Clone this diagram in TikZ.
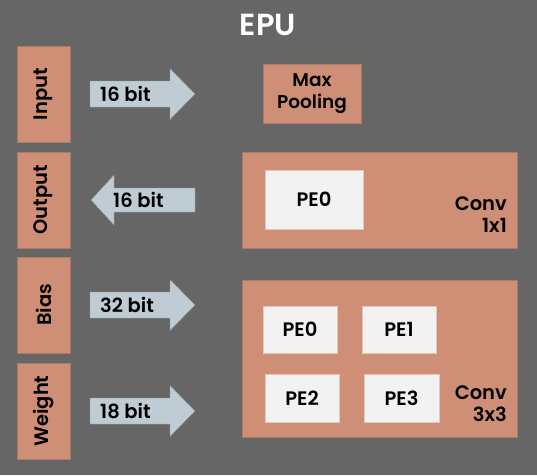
\documentclass[tikz,border=0pt]{standalone}
\usepackage{fontspec}
\setmainfont{Poppins}[BoldFont={* SemiBold}]
\usepackage{tikz}
\usetikzlibrary{positioning}

\definecolor{bgcol}{HTML}{666666}
\definecolor{unitcol}{HTML}{CF8F77}
\definecolor{unitline}{HTML}{A97C6A}
\definecolor{pecol}{HTML}{F2F2F2}
\definecolor{peline}{HTML}{E6C8BB}
\definecolor{arrcol}{HTML}{BFCCD4}
\definecolor{arrline}{HTML}{8E989E}

\newcommand{\rarrow}[3]{%
  % #1 name, #2 centre y, #3 label
  \filldraw[arr] (90,#2-13) -- (170,#2-13) -- (170,#2-25.5) -- (195,#2)
    -- (170,#2+25.5) -- (170,#2+13) -- (90,#2+13) -- cycle;
  \node[lbl, anchor=base west] (#1) at (100,#2+7.5) {#3};
}

\begin{document}
\begin{tikzpicture}[x=1pt, y=-1pt,
  unit/.style={fill=unitcol, draw=unitline, line width=0.6pt, inner sep=0pt},
  pe/.style={fill=pecol, draw=peline, line width=0.6pt, inner sep=0pt,
    font=\fontsize{19.5}{22}\selectfont\bfseries},
  arr/.style={fill=arrcol, draw=arrline, line width=0.4pt},
  lbl/.style={inner sep=0pt, font=\fontsize{19.5}{22}\selectfont\bfseries, text=black},
  side/.style={unit, rotate=90, minimum width=96, minimum height=53,
    font=\fontsize{19.5}{22}\selectfont\bfseries}]

\fill[bgcol] (0,0) rectangle (537,475);
\useasboundingbox (0,0) rectangle (537,475);

\node[font=\fontsize{30.5}{32}\selectfont\bfseries, text=white] (epu) at (268,25) {EPU};

% ===== SIDE BLOCKS =====
\node[side] (input)  at (43.5,94)  {Input};
\node[side] (output) at (43.5,200) {Output};
\node[side] (bias)   at (43.5,305) {Bias};
\node[side] (weight) at (43.5,411) {Weight};

% ===== BUS ARROWS =====
\rarrow{inbits}{94}{16 bit}
\filldraw[arr] (195,188) -- (114,188) -- (114,175) -- (91,200)
  -- (114,225) -- (114,212) -- (195,212) -- cycle;
\node[lbl, anchor=base west] (outbits) at (113,207.5) {16 bit};
\rarrow{biasbits}{305}{32 bit}
\rarrow{weightbits}{411}{18 bit}

% ===== UNITS =====
\node[unit, minimum width=98, minimum height=59, align=center,
  font=\fontsize{18.5}{22}\selectfont\bfseries] (maxpool) at (312,93.5) {Max\\Pooling};

\node[unit, minimum width=275, minimum height=96] (conv1) at (379.5,200) {};
\node[pe, minimum width=98, minimum height=59] (c1pe0) at (314,199.5) {PE0};
\node[lbl, align=right, anchor=south east] (conv1lbl) at (507,233) {Conv\\1x1};

\node[unit, minimum width=275, minimum height=157] (conv3) at (379.5,358.5) {};
\node[pe, minimum width=74, minimum height=47] (c3pe0) at (300,329.5) {PE0};
\node[pe, minimum width=74, minimum height=47] (c3pe1) at (399,329.5) {PE1};
\node[pe, minimum width=74, minimum height=48] (c3pe2) at (302,398) {PE2};
\node[pe, minimum width=75, minimum height=48] (c3pe3) at (401.5,398) {PE3};
\node[lbl, align=right, anchor=south east] (conv3lbl) at (507,422) {Conv\\3x3};

\end{tikzpicture}
\end{document}
